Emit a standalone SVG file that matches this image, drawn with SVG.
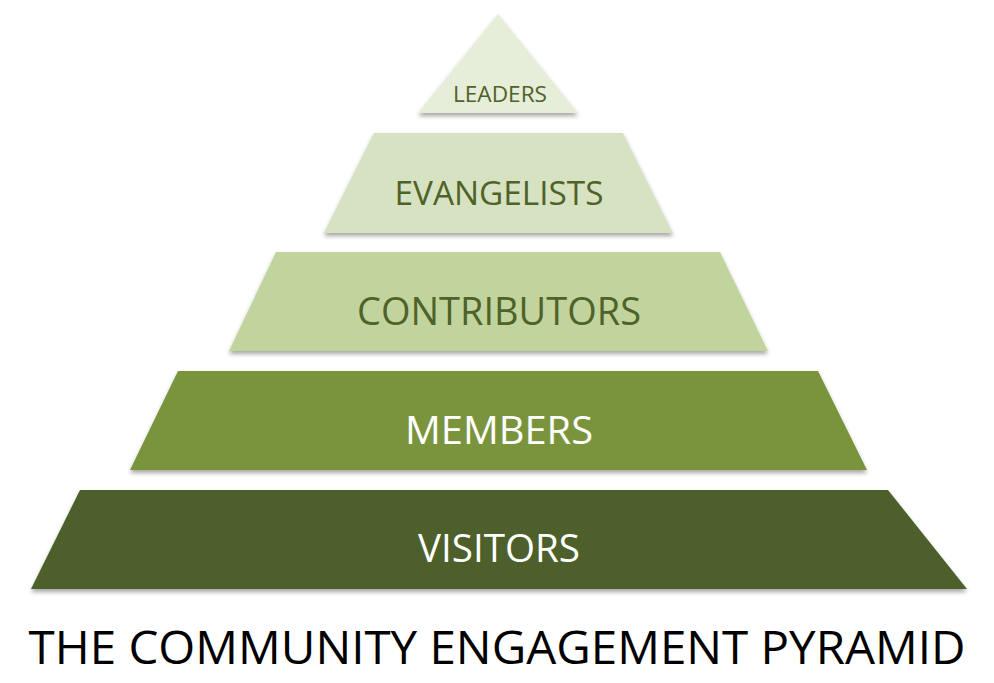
<svg xmlns="http://www.w3.org/2000/svg" width="994" height="683" viewBox="0 0 994 683">
<defs>
<filter id="sh" x="-10%" y="-10%" width="120%" height="130%"><feDropShadow dx="0" dy="3" stdDeviation="2" flood-color="#000" flood-opacity="0.35"/></filter>
<style>
.t{font-family:"Open Sans","Liberation Sans",sans-serif;text-anchor:middle}
.d{fill:#4f6228}.w{fill:#fff}
</style>
</defs>
<rect width="994" height="683" fill="#fff"/>
<g id="leaders"><polygon points="498,14 578,113 418,113" fill="#e6edd9" filter="url(#sh)"/><text class="t d" x="500" y="102" font-size="21" textLength="94" lengthAdjust="spacingAndGlyphs">LEADERS</text></g>
<g id="evangelists"><polygon points="374,133 623,133 673,233 324,233" fill="#d6e2c1" filter="url(#sh)"/><text class="t d" x="499" y="205" font-size="33" textLength="209" lengthAdjust="spacingAndGlyphs">EVANGELISTS</text></g>
<g id="contributors"><polygon points="276,252 720,252 768,351 229,351" fill="#c2d49e" filter="url(#sh)"/><text class="t d" x="499" y="325" font-size="38" textLength="284" lengthAdjust="spacingAndGlyphs">CONTRIBUTORS</text></g>
<g id="members"><polygon points="178,371 818,371 867,470 130,470" fill="#7a943e" filter="url(#sh)"/><text class="t w" x="499" y="444" font-size="38" textLength="188" lengthAdjust="spacingAndGlyphs">MEMBERS</text></g>
<g id="visitors"><polygon points="80,490 888,490 967,589 31,589" fill="#4e5e2b" filter="url(#sh)"/><text class="t w" x="499" y="562" font-size="38" textLength="162" lengthAdjust="spacingAndGlyphs">VISITORS</text></g>
<g id="connectors"/>
<text class="t" x="497" y="664" font-size="45" fill="#000" textLength="937" lengthAdjust="spacingAndGlyphs">THE COMMUNITY ENGAGEMENT PYRAMID</text>
</svg>
